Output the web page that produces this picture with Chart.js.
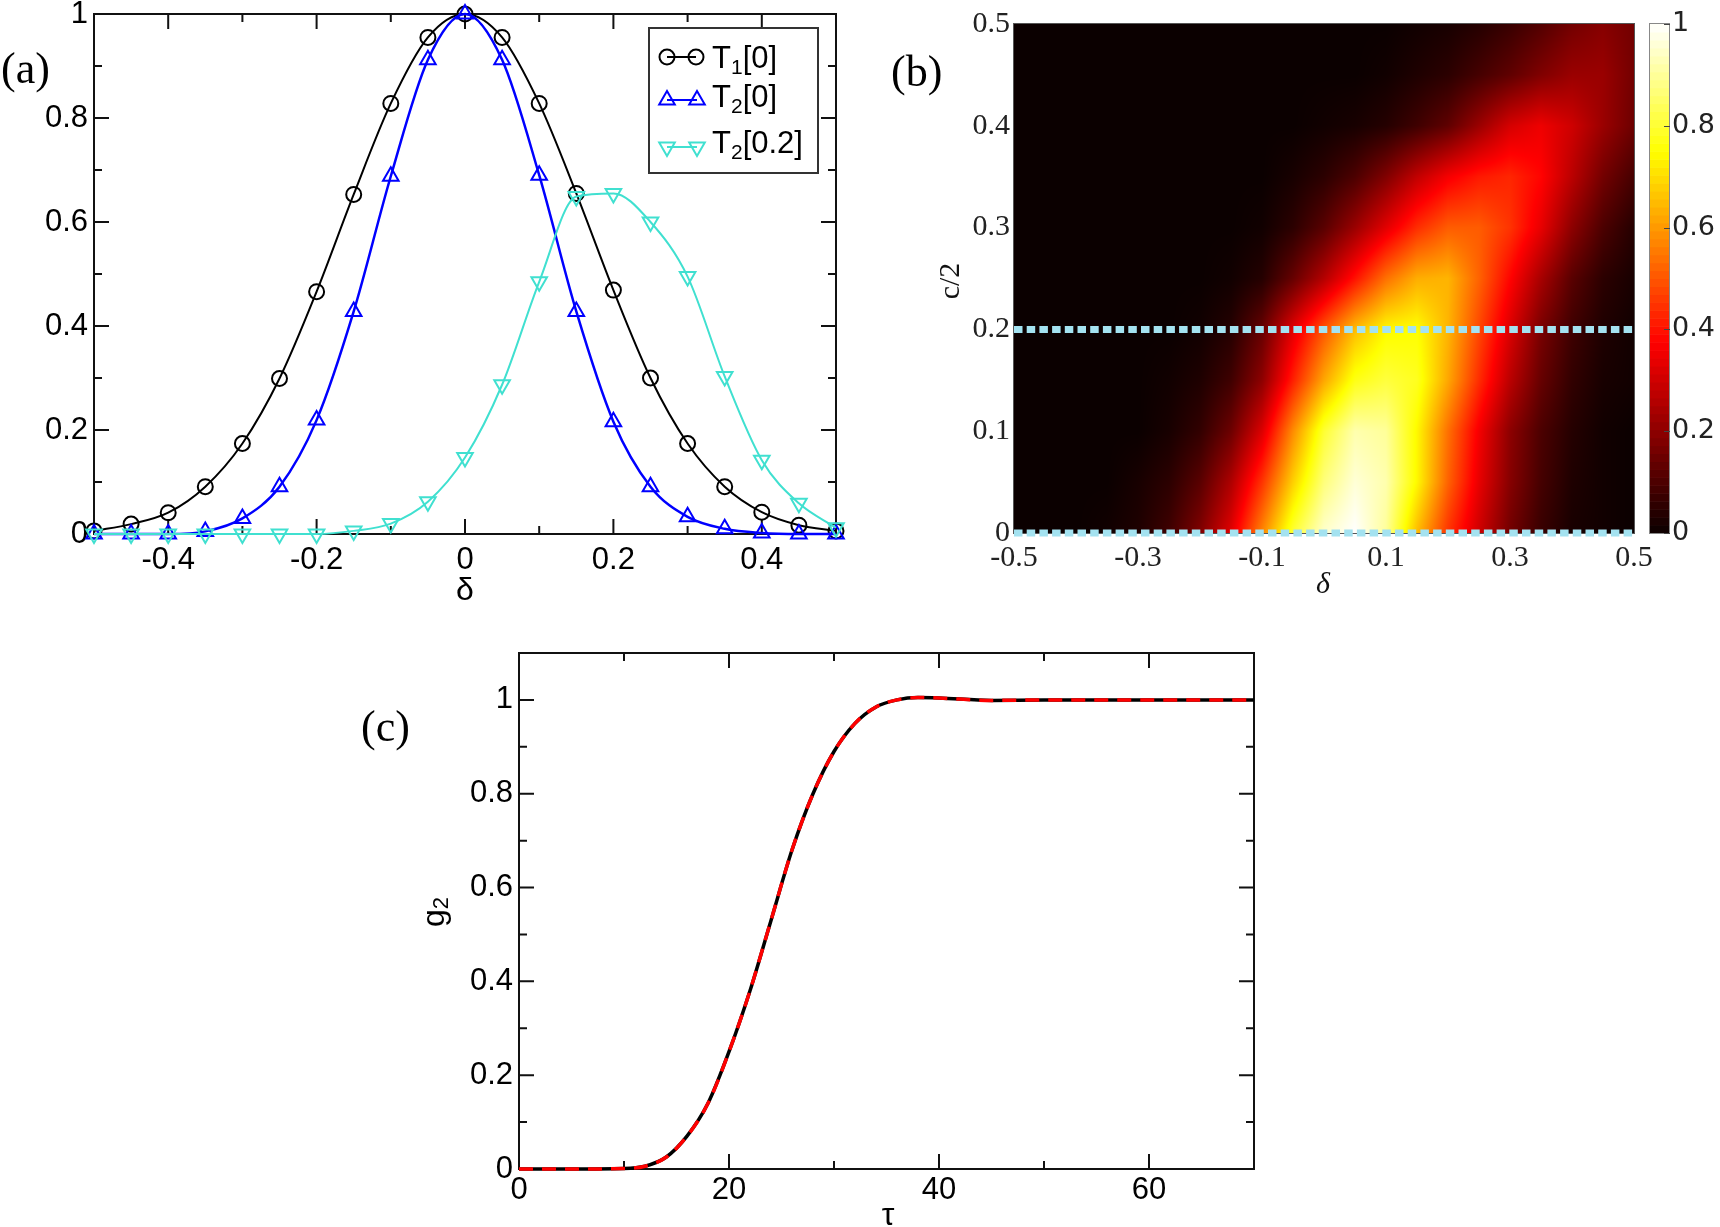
<!DOCTYPE html>
<html>
<head>
<meta charset="utf-8">
<script src="https://cdn.jsdelivr.net/npm/chart.js@4.4.1/dist/chart.umd.min.js"></script>
<style>
html, body { margin: 0; padding: 0; background: #fff; }
#page { position: relative; width: 1720px; height: 1227px; overflow: hidden; }
canvas { position: absolute; }
#overlay { position: absolute; left: 0; top: 0; pointer-events: none; }
</style>
</head>
<body>
<div id="page">
<canvas id="chartA" width="870" height="610" style="left:0px;top:0px"></canvas>
<canvas id="chartB" width="840" height="610" style="left:880px;top:0px"></canvas>
<canvas id="chartC" width="900" height="607" style="left:380px;top:620px"></canvas>
<svg id="overlay" width="1720" height="1227">
  <g font-family="'Liberation Serif', 'Times New Roman', serif" font-size="44" fill="#000">
    <text x="1" y="83">(a)</text>
    <text x="891" y="86">(b)</text>
    <text x="361" y="741">(c)</text>
  </g>
  <g font-family="'Liberation Sans', Arial, sans-serif" fill="#000">
    <text x="465" y="600" font-size="32" text-anchor="middle">δ</text>
    <text x="888" y="1225" font-size="32" text-anchor="middle">τ</text>
    <text transform="translate(444,912) rotate(-90)" font-size="32" text-anchor="middle">g<tspan font-size="22" dy="4">2</tspan></text>
  </g>
  <g font-family="'Liberation Serif', 'Times New Roman', serif" fill="#111">
    <text transform="translate(947,281) rotate(-90)" y="12" font-size="30" text-anchor="middle">c/2</text>
    <text x="1323" y="593" font-size="30" font-style="italic" text-anchor="middle">δ</text>
  </g>
  <g font-family="'Liberation Sans', Arial, sans-serif" font-size="31" fill="#000">
    <rect x="649" y="28" width="169" height="145" fill="#fff" stroke="#333" stroke-width="2"/>
    <line x1="667" y1="57" x2="696" y2="57" stroke="#000" stroke-width="2"/>
    <circle cx="667" cy="57" r="7.5" fill="none" stroke="#000" stroke-width="2"/>
    <circle cx="696" cy="57" r="7.5" fill="none" stroke="#000" stroke-width="2"/>
    <text x="712" y="68">T<tspan font-size="21" dy="6">1</tspan><tspan dy="-6">[0]</tspan></text>
    <line x1="667" y1="100" x2="697" y2="100" stroke="#0000ff" stroke-width="2"/>
    <polygon points="667,91 674.8,104.5 659.2,104.5" fill="none" stroke="#0000ff" stroke-width="2"/>
    <polygon points="697,91 704.8,104.5 689.2,104.5" fill="none" stroke="#0000ff" stroke-width="2"/>
    <text x="712" y="107">T<tspan font-size="21" dy="6">2</tspan><tspan dy="-6">[0]</tspan></text>
    <line x1="667" y1="147" x2="697" y2="147" stroke="#40e0d0" stroke-width="2"/>
    <polygon points="667,156 674.8,142.5 659.2,142.5" fill="none" stroke="#40e0d0" stroke-width="2"/>
    <polygon points="697,156 704.8,142.5 689.2,142.5" fill="none" stroke="#40e0d0" stroke-width="2"/>
    <text x="712" y="153">T<tspan font-size="21" dy="6">2</tspan><tspan dy="-6">[0.2]</tspan></text>
  </g>
</svg>
</div>
<script>
// ---- panel (a): transmission curves ----
var deltaA = [-0.5,-0.45,-0.4,-0.35,-0.3,-0.25,-0.2,-0.15,-0.1,-0.05,0,0.05,0.1,0.15,0.2,0.25,0.3,0.35,0.4,0.45,0.5];
var t1Zero = [0.006,0.019,0.041,0.091,0.174,0.299,0.466,0.653,0.828,0.955,1.0,0.955,0.828,0.655,0.469,0.300,0.174,0.091,0.042,0.017,0.006];
var t2Zero = [0,0,0,0.005,0.03,0.091,0.219,0.428,0.688,0.912,1.0,0.912,0.69,0.428,0.216,0.091,0.033,0.01,0.002,0,0];
var t2Shift = [0,0,0,0,0,0,0,0.006,0.02,0.062,0.147,0.287,0.485,0.649,0.655,0.60,0.495,0.303,0.142,0.059,0.012];
var xTicksA = [-0.4,-0.2,0,0.2,0.4];
var xMinorA = [-0.3,-0.1,0.1,0.3];
var yTicksA = [0,0.2,0.4,0.6,0.8,1];
var yMinorA = [0.1,0.3,0.5,0.7,0.9];

// ---- panel (b): map over delta and c/2 ----
var heatDelta = [-0.5,-0.45,-0.4,-0.35,-0.3,-0.25,-0.2,-0.15,-0.1,-0.05,0,0.05,0.1,0.15,0.2,0.25,0.3,0.35,0.4,0.45,0.5];
var heatC = [0,0.05,0.1,0.15,0.2,0.25,0.3,0.35,0.4,0.45,0.5];
var heatRows = [
  [0,0,0,0.01,0.03,0.08,0.18,0.33,0.57,0.8,0.95,1.0,0.9,0.65,0.45,0.3,0.16,0.07,0.02,0.01,0],
  [0,0,0,0,0.02,0.05,0.12,0.25,0.45,0.68,0.87,0.96,0.92,0.74,0.52,0.34,0.19,0.09,0.03,0.01,0],
  [0,0,0,0,0,0.02,0.06,0.15,0.32,0.58,0.8,0.92,0.9,0.74,0.54,0.36,0.2,0.1,0.04,0.01,0],
  [0,0,0,0,0,0.01,0.03,0.08,0.2,0.42,0.62,0.77,0.81,0.78,0.62,0.44,0.27,0.14,0.06,0.02,0.01],
  [0,0,0,0,0,0,0.01,0.04,0.14,0.33,0.5,0.65,0.74,0.75,0.64,0.48,0.32,0.17,0.08,0.03,0.01],
  [0,0,0,0,0,0,0,0.01,0.04,0.14,0.26,0.4,0.54,0.63,0.64,0.52,0.38,0.24,0.12,0.05,0.02],
  [0,0,0,0,0,0,0,0,0.01,0.05,0.12,0.22,0.33,0.44,0.51,0.51,0.45,0.34,0.2,0.1,0.04],
  [0,0,0,0,0,0,0,0,0,0.02,0.05,0.1,0.18,0.28,0.36,0.41,0.43,0.38,0.27,0.16,0.09],
  [0,0,0,0,0,0,0,0,0,0,0.01,0.02,0.04,0.08,0.13,0.22,0.31,0.35,0.3,0.22,0.15],
  [0,0,0,0,0,0,0,0,0,0,0,0,0.01,0.03,0.05,0.09,0.13,0.18,0.22,0.22,0.16],
  [0,0,0,0,0,0,0,0,0,0,0,0,0,0.01,0.02,0.04,0.07,0.11,0.16,0.19,0.16]
];
var cutLevels = [0.2, 0];
var xTicksB = [-0.5,-0.3,-0.1,0.1,0.3,0.5];
var yTicksB = [0,0.1,0.2,0.3,0.4,0.5];
var cbTicks = [0,0.2,0.4,0.6,0.8,1];

// ---- panel (c): g2 vs tau ----
var tau = [0,5,10,12,14,16,18,20,22,24,26,28,30,32,34,36,38,40,45,50,55,60,65,70];
var g2 = [0,0,0.001,0.006,0.025,0.07,0.14,0.25,0.38,0.53,0.68,0.8,0.89,0.95,0.985,1.0,1.005,1.004,0.999,1.0,1.0,1.0,1.0,1.0];
var xTicksC = [0,20,40,60];
var xMinorC = [10,30,50];
var yTicksC = [0,0.2,0.4,0.6,0.8,1];
var yMinorC = [0.1,0.3,0.5,0.7,0.9];

var SANS = "'Liberation Sans', Arial, sans-serif";
var SERIF = "'Liberation Serif', 'Times New Roman', serif";
Chart.defaults.color = '#000';

function pts(xs, ys) { return xs.map(function(x, i) { return {x: x, y: ys[i]}; }); }
function fixTicks(list) { return function(s) { s.ticks = list.map(function(v) { return {value: v}; }); }; }
// hidden tick marks, only used to push the labels away from the axis
function gap(n) { return {display: false, drawTicks: true, tickLength: n}; }

// box round the plot with inward ticks on all four sides
var frameTicksPlugin = {
  id: 'frameTicks',
  beforeDatasetsDraw: function(chart, args, o) {
    var ctx = chart.ctx, a = chart.chartArea, xs = chart.scales.x, ys = chart.scales.y;
    ctx.save();
    ctx.strokeStyle = '#111';
    ctx.lineWidth = 2;
    ctx.strokeRect(a.left, a.top, a.right - a.left, a.bottom - a.top);
    ctx.beginPath();
    function xt(list, len) {
      list.forEach(function(v) {
        var p = xs.getPixelForValue(v);
        ctx.moveTo(p, a.bottom); ctx.lineTo(p, a.bottom - len);
        ctx.moveTo(p, a.top); ctx.lineTo(p, a.top + len);
      });
    }
    function yt(list, len) {
      list.forEach(function(v) {
        var p = ys.getPixelForValue(v);
        ctx.moveTo(a.left, p); ctx.lineTo(a.left + len, p);
        ctx.moveTo(a.right, p); ctx.lineTo(a.right - len, p);
      });
    }
    xt(o.xMajor, 15); xt(o.xMinor, 8);
    yt(o.yMajor, 15); yt(o.yMinor, 8);
    ctx.stroke();
    ctx.restore();
  }
};

function hotColor(v) {
  v = Math.max(0, Math.min(1, v));
  var r = Math.min(1, 0.0417 + v / 0.375 * (1 - 0.0417));
  var g = Math.max(0, Math.min(1, (v - 0.375) / 0.375));
  var b = Math.max(0, Math.min(1, (v - 0.75) / 0.25));
  return [Math.round(r * 255), Math.round(g * 255), Math.round(b * 255)];
}
function bracket(list, v) {
  var i = 0;
  while (i < list.length - 2 && v > list[i + 1]) i++;
  var f = (v - list[i]) / (list[i + 1] - list[i]);
  return [i, Math.max(0, Math.min(1, f))];
}

var heatmapPlugin = {
  id: 'heatmap',
  beforeDatasetsDraw: function(chart) {
    var a = chart.chartArea, xs = chart.scales.x, ys = chart.scales.y, ctx = chart.ctx;
    var left = Math.round(a.left), top = Math.round(a.top);
    var w = Math.round(a.right) - left, h = Math.round(a.bottom) - top;
    var img = ctx.createImageData(w, h);
    var cols = [];
    for (var i = 0; i < w; i++) cols.push(bracket(heatDelta, xs.getValueForPixel(left + i + 0.5)));
    for (var j = 0; j < h; j++) {
      var rb = bracket(heatC, ys.getValueForPixel(top + j + 0.5));
      var r0 = heatRows[rb[0]], r1 = heatRows[rb[0] + 1];
      for (var i2 = 0; i2 < w; i2++) {
        var k = cols[i2][0], f = cols[i2][1];
        var v0 = r0[k] * (1 - f) + r0[k + 1] * f;
        var v1 = r1[k] * (1 - f) + r1[k + 1] * f;
        var c = hotColor(v0 * (1 - rb[1]) + v1 * rb[1]);
        var p = (j * w + i2) * 4;
        img.data[p] = c[0]; img.data[p + 1] = c[1]; img.data[p + 2] = c[2]; img.data[p + 3] = 255;
      }
    }
    ctx.putImageData(img, left, top);
    ctx.save();
    ctx.strokeStyle = '#555';
    ctx.lineWidth = 1;
    ctx.strokeRect(left - 0.5, top - 0.5, w + 1, h + 1);
    ctx.restore();
  }
};

var colorbarPlugin = {
  id: 'colorbar',
  afterDraw: function(chart) {
    var cb = chart.scales.cb, ctx = chart.ctx;
    var x0 = cb.left + 15, bw = 21, steps = 64;
    ctx.save();
    for (var k = 0; k < steps; k++) {
      var c = hotColor((k + 0.5) / steps);
      var yLo = cb.getPixelForValue(k / steps), yHi = cb.getPixelForValue((k + 1) / steps);
      ctx.fillStyle = 'rgb(' + c[0] + ',' + c[1] + ',' + c[2] + ')';
      ctx.fillRect(x0, yHi, bw, yLo - yHi + 0.6);
    }
    var yTop = cb.getPixelForValue(1), yBot = cb.getPixelForValue(0);
    ctx.strokeStyle = '#888';
    ctx.lineWidth = 1;
    ctx.strokeRect(x0 + 0.5, yTop - 0.5, bw - 1, yBot - yTop + 1);
    ctx.strokeStyle = '#444';
    ctx.beginPath();
    cbTicks.forEach(function(v) {
      var y = Math.round(cb.getPixelForValue(v)) + 0.5;
      ctx.moveTo(x0 + bw - 6, y); ctx.lineTo(x0 + bw, y);
    });
    ctx.stroke();
    ctx.restore();
  }
};

var noGrid = {display: false, drawTicks: false};
var noBorder = {display: false};
function lbl(v) { return String(v); }

// ---------------- chart (a) ----------------
new Chart(document.getElementById('chartA'), {
  type: 'scatter',
  data: {
    datasets: [
      {label: 'T1[0]', data: pts(deltaA, t1Zero), showLine: true, borderColor: '#000', borderWidth: 2,
       pointStyle: 'circle', pointRadius: 7.5, pointBorderWidth: 2, pointBorderColor: '#000',
       pointBackgroundColor: 'rgba(0,0,0,0)', cubicInterpolationMode: 'monotone', clip: false, order: 3},
      {label: 'T2[0]', data: pts(deltaA, t2Zero), showLine: true, borderColor: '#0000ff', borderWidth: 2.5,
       pointStyle: 'triangle', pointRadius: 9, pointBorderWidth: 2, pointBorderColor: '#0000ff',
       pointBackgroundColor: 'rgba(0,0,0,0)', cubicInterpolationMode: 'monotone', clip: false, order: 2},
      {label: 'T2[0.2]', data: pts(deltaA, t2Shift), showLine: true, borderColor: '#40e0d0', borderWidth: 2,
       pointStyle: 'triangle', pointRotation: 180, pointRadius: 9, pointBorderWidth: 2, pointBorderColor: '#40e0d0',
       pointBackgroundColor: 'rgba(0,0,0,0)', cubicInterpolationMode: 'monotone', clip: false, order: 1}
    ]
  },
  options: {
    responsive: false, animation: false, devicePixelRatio: 1,
    layout: {padding: {top: 14, right: 34, left: 0, bottom: 0}},
    plugins: {
      legend: {display: false}, tooltip: {enabled: false},
      frameTicks: {xMajor: xTicksA, xMinor: xMinorA, yMajor: yTicksA, yMinor: yMinorA}
    },
    scales: {
      x: {type: 'linear', min: -0.5, max: 0.5, grid: noGrid, border: noBorder,
          afterBuildTicks: fixTicks(xTicksA), afterFit: function(s) { s.height = 76; },
          ticks: {font: {family: SANS, size: 31, lineHeight: 1}, padding: 11, maxRotation: 0, callback: lbl}},
      y: {type: 'linear', min: 0, max: 1, grid: gap(6), border: noBorder,
          afterBuildTicks: fixTicks(yTicksA), afterFit: function(s) { s.width = 94; },
          ticks: {font: {family: SANS, size: 31, lineHeight: 0.7}, padding: 0, callback: lbl}}
    }
  },
  plugins: [frameTicksPlugin]
});

// ---------------- chart (b) ----------------
new Chart(document.getElementById('chartB'), {
  type: 'scatter',
  data: {
    datasets: cutLevels.map(function(c) {
      return {data: [{x: -0.5, y: c}, {x: 0.5, y: c}], showLine: true, borderColor: '#a4e2f0',
              borderWidth: 7, borderDash: [8.5, 4.2], borderCapStyle: 'butt', pointRadius: 0, clip: false};
    })
  },
  options: {
    responsive: false, animation: false, devicePixelRatio: 1,
    layout: {padding: {top: 24, right: 0, left: 0, bottom: 0}},
    plugins: {legend: {display: false}, tooltip: {enabled: false}},
    scales: {
      x: {type: 'linear', min: -0.5, max: 0.5, grid: noGrid, border: noBorder,
          afterBuildTicks: fixTicks(xTicksB), afterFit: function(s) { s.height = 77; },
          ticks: {font: {family: SERIF, size: 30, lineHeight: 1}, color: '#222', padding: 10, maxRotation: 0, callback: lbl}},
      y: {type: 'linear', min: 0, max: 0.5, grid: gap(4), border: noBorder,
          afterBuildTicks: fixTicks(yTicksB), afterFit: function(s) { s.width = 134; },
          ticks: {font: {family: SERIF, size: 30, lineHeight: 0.7}, color: '#222', padding: 0, callback: lbl}},
      cb: {type: 'linear', axis: 'y', position: 'right', min: 0, max: 1, grid: gap(38), border: noBorder,
           afterBuildTicks: fixTicks(cbTicks), afterFit: function(s) { s.width = 86; },
           ticks: {font: {family: "'DejaVu Sans', sans-serif", size: 27, lineHeight: 0.7}, color: '#222', padding: 0, callback: lbl}}
    }
  },
  plugins: [heatmapPlugin, colorbarPlugin]
});

// ---------------- chart (c) ----------------
new Chart(document.getElementById('chartC'), {
  type: 'scatter',
  data: {
    datasets: [
      {label: 'exact', data: pts(tau, g2), showLine: true, borderColor: '#000', borderWidth: 3.5,
       pointRadius: 0, cubicInterpolationMode: 'monotone', clip: false, order: 2},
      {label: 'approx', data: pts(tau, g2), showLine: true, borderColor: '#ff0000', borderWidth: 3.5,
       borderDash: [14, 9], pointRadius: 0, cubicInterpolationMode: 'monotone', clip: false, order: 1}
    ]
  },
  options: {
    responsive: false, animation: false, devicePixelRatio: 1,
    layout: {padding: {top: 33, right: 26, left: 0, bottom: 0}},
    plugins: {
      legend: {display: false}, tooltip: {enabled: false},
      frameTicks: {xMajor: xTicksC, xMinor: xMinorC, yMajor: yTicksC, yMinor: yMinorC}
    },
    scales: {
      x: {type: 'linear', min: 0, max: 70, grid: noGrid, border: noBorder,
          afterBuildTicks: fixTicks(xTicksC), afterFit: function(s) { s.height = 58; },
          ticks: {font: {family: SANS, size: 31, lineHeight: 1}, padding: 6, maxRotation: 0, callback: lbl}},
      y: {type: 'linear', min: 0, max: 1.1, grid: gap(6), border: noBorder,
          afterBuildTicks: fixTicks(yTicksC), afterFit: function(s) { s.width = 139; },
          ticks: {font: {family: SANS, size: 31, lineHeight: 0.7}, padding: 0, callback: lbl}}
    }
  },
  plugins: [frameTicksPlugin]
});
</script>
</body>
</html>
